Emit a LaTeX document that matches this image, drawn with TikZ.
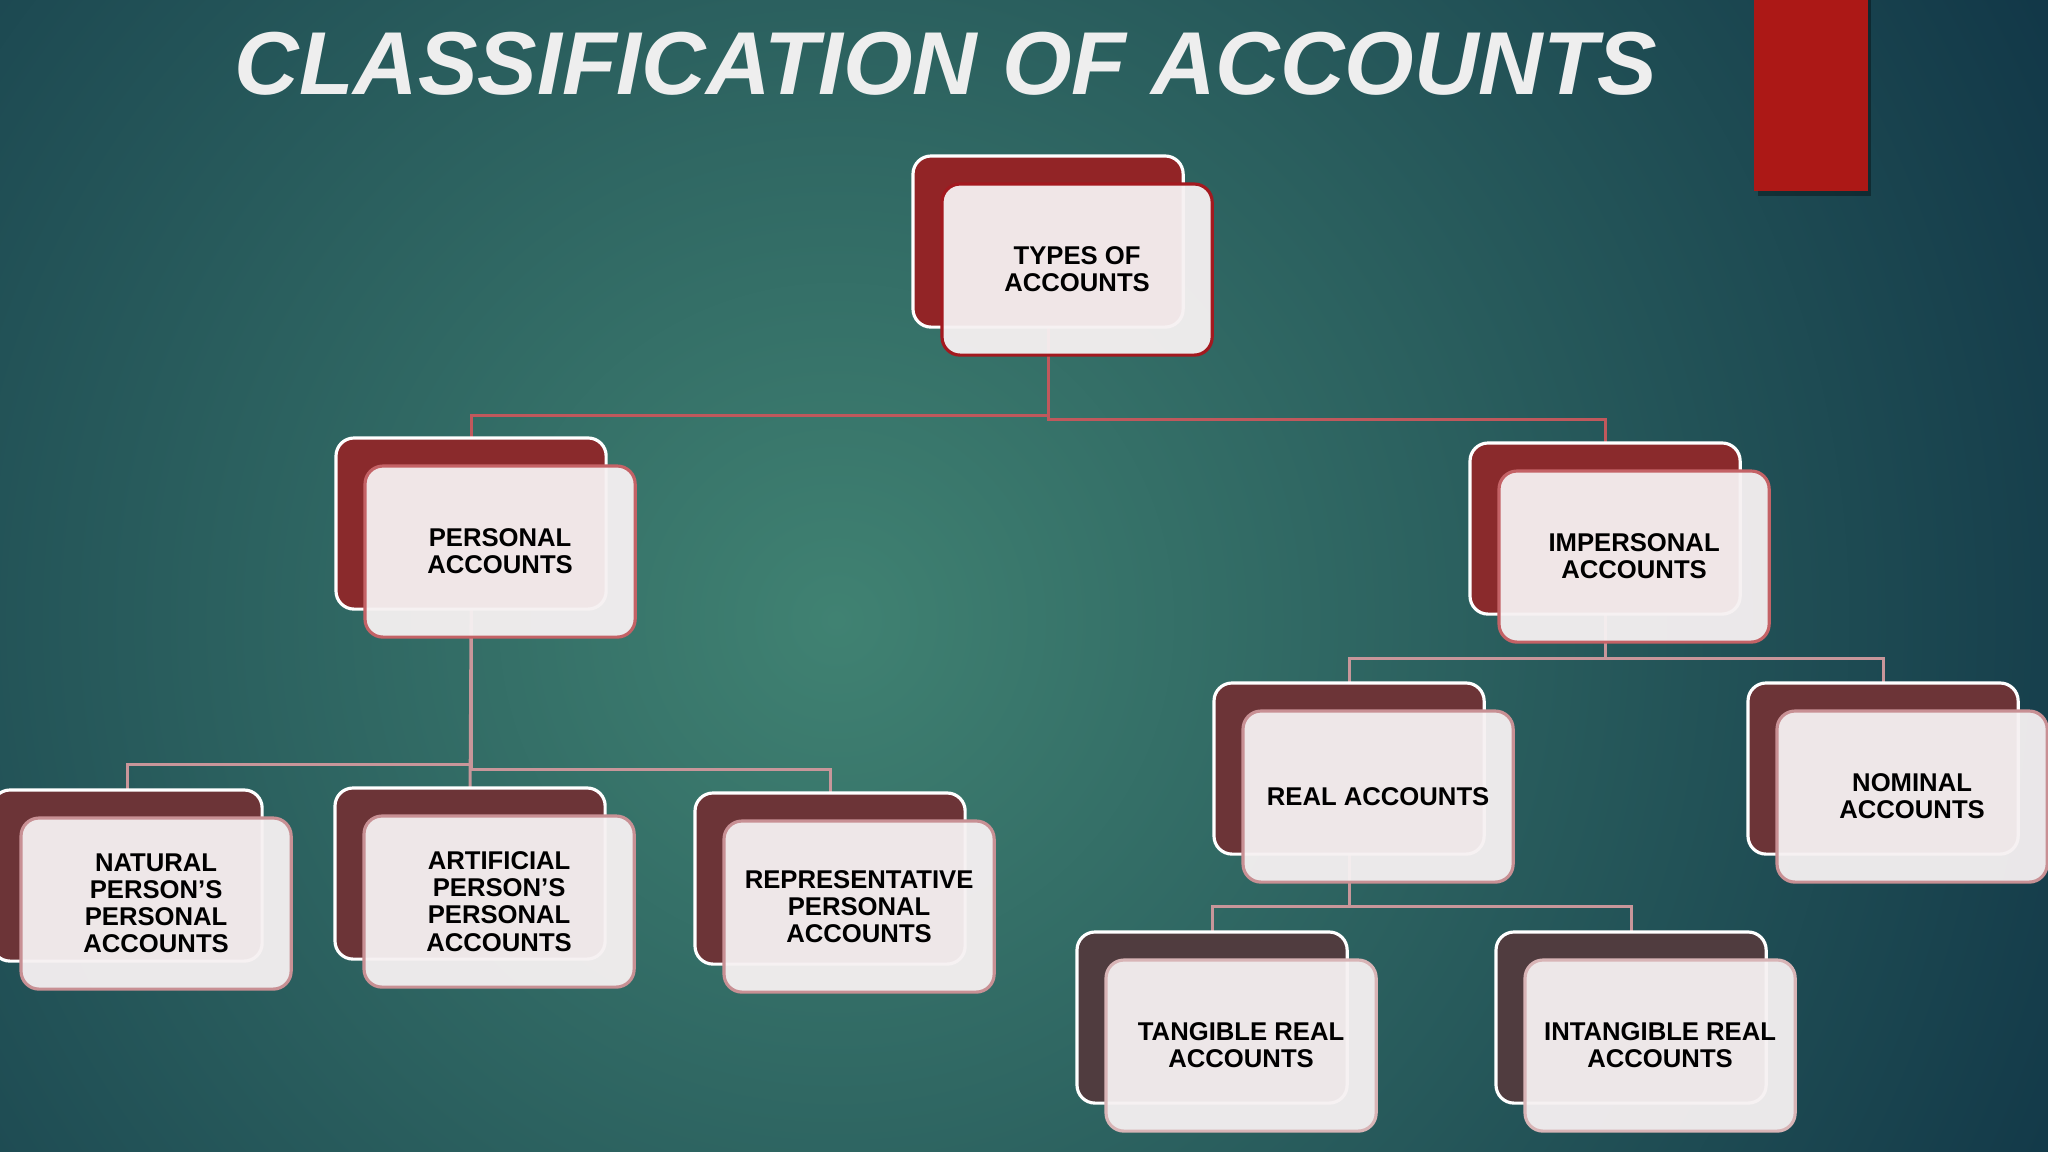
\documentclass[tikz,border=0pt]{standalone}
\usepackage{fontspec}
\setmainfont{Liberation Sans}
\usetikzlibrary{calc}
\pgfdeclarelayer{bglayer}
\pgfdeclarelayer{connlayer}
\pgfsetlayers{bglayer,connlayer,main}
\definecolor{bginner}{RGB}{64,130,114}
\definecolor{bgouter}{RGB}{18,56,72}
\definecolor{titlecol}{RGB}{238,238,238}
\definecolor{redbar}{RGB}{172,24,22}
\definecolor{frontfill}{RGB}{246,241,242}
\definecolor{backA}{RGB}{146,36,38}
\definecolor{bordA}{RGB}{163,25,31}
\definecolor{backB}{RGB}{138,42,44}
\definecolor{bordB}{RGB}{196,98,102}
\definecolor{backC}{RGB}{108,52,55}
\definecolor{bordC}{RGB}{200,144,148}
\definecolor{backD}{RGB}{80,60,63}
\definecolor{bordD}{RGB}{216,180,182}
\definecolor{connA}{RGB}{192,88,92}
\definecolor{connB}{RGB}{200,150,154}
\tikzset{
  backbox/.style={draw=white, line width=0.9pt, rounded corners=1.8mm,
    minimum width=2.7cm, minimum height=1.71cm, anchor=north west, inner sep=0pt, outer sep=0pt},
  frontbox/.style={line width=0.9pt, rounded corners=1.8mm, fill=frontfill,
    fill opacity=0.95, text opacity=1, minimum width=2.7cm, minimum height=1.71cm,
    anchor=north west, inner sep=0pt, outer sep=0pt, align=center, text=black,
    font=\fontsize{7.3pt}{7.7pt}\selectfont\bfseries},
  connone/.style={draw=connA, line width=0.85pt},
  conntwo/.style={draw=connB, line width=0.85pt},
  titletext/.style={font=\fontsize{25.4pt}{28pt}\selectfont\bfseries\itshape, text=titlecol, anchor=base, inner sep=0pt}
}
\newcommand\acctpair[6]{%
  \node[backbox, fill=#4] (#1b) at (#2,#3) {};
  \node[frontbox, draw=#5] (#1) at ([xshift=0.29cm,yshift=-0.28cm]#1b.north west) {#6};}
\begin{document}
\begin{tikzpicture}[x=0.01cm, y=-0.01cm]
\useasboundingbox (0,0) rectangle (2048,1152);
\begin{pgfonlayer}{bglayer}
  \fill[bgouter] (0,0) rectangle (2048,1152);
  \begin{scope}
    \clip (0,0) rectangle (2048,1152);
    \shade[inner color=bginner, outer color=bgouter] (836,620) circle (1350);
  \end{scope}
\end{pgfonlayer}

% red bar with a faint shadow
\fill[black, opacity=0.35] (1758,0) rectangle (1871,196);
\fill[redbar] (1754,0) rectangle (1868,191);

\node[titletext] (title) at (946,95) {CLASSIFICATION OF ACCOUNTS};

\acctpair{types}{913}{156}{backA}{bordA}{TYPES OF\\ACCOUNTS}
\acctpair{personal}{336}{438}{backB}{bordB}{PERSONAL\\ACCOUNTS}
\acctpair{impersonal}{1470}{443}{backB}{bordB}{IMPERSONAL\\ACCOUNTS}
\acctpair{natural}{-8}{790}{backC}{bordC}{NATURAL\\PERSON’S\\PERSONAL\\ACCOUNTS}
\acctpair{artificial}{335}{788}{backC}{bordC}{ARTIFICIAL\\PERSON’S\\PERSONAL\\ACCOUNTS}
\acctpair{representative}{695}{793}{backC}{bordC}{REPRESENTATIVE\\PERSONAL\\ACCOUNTS}
\acctpair{real}{1214}{683}{backC}{bordC}{REAL ACCOUNTS}
\acctpair{nominal}{1748}{683}{backC}{bordC}{NOMINAL\\ACCOUNTS}
\acctpair{tangible}{1077}{932}{backD}{bordD}{TANGIBLE REAL\\ACCOUNTS}
\acctpair{intangible}{1496}{932}{backD}{bordD}{INTANGIBLE REAL\\ACCOUNTS}

\begin{pgfonlayer}{connlayer}
  \draw[connone] (typesb.south) -- ++(0,88) -| (personalb.north);
  \draw[connone] (typesb.south) -- ++(0,92) -| (impersonalb.north);
  \draw[conntwo] (personalb.south) -- ++(0,155) -| (naturalb.north);
  \draw[conntwo] (personalb.south) -- (artificialb.north);
  \draw[conntwo] (personalb.south) -- ++(0,160) -| (representativeb.north);
  \draw[conntwo] (impersonalb.south) -- ++(0,44) -| (realb.north);
  \draw[conntwo] (impersonalb.south) -- ++(0,44) -| (nominalb.north);
  \draw[conntwo] (realb.south) -- ++(0,52) -| (tangibleb.north);
  \draw[conntwo] (realb.south) -- ++(0,52) -| (intangibleb.north);
\end{pgfonlayer}
\end{tikzpicture}
\end{document}
